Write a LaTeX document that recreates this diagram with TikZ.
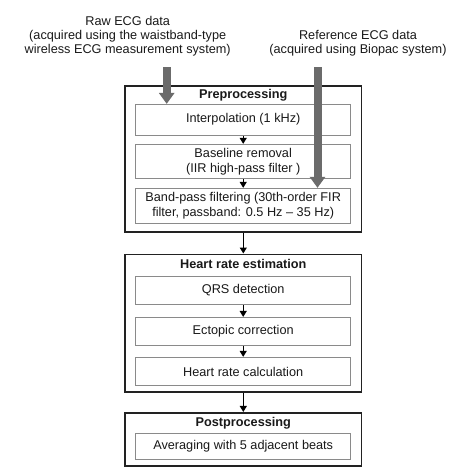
\documentclass[tikz,border=0pt]{standalone}
\usepackage{fontspec}
\setmainfont{Liberation Sans}
\usetikzlibrary{arrows.meta}
\definecolor{arrowgray}{HTML}{6B6B6B}
\definecolor{innergray}{HTML}{8A8A8A}
\definecolor{outerline}{HTML}{222222}
\begin{document}
\begin{tikzpicture}[x=1pt,y=-1pt,
  every node/.style={font=\fontsize{12.7}{15.5}\selectfont, text=black!90},
  lbl/.style={align=center, inner sep=0pt, font=\fontsize{12.7}{14.2}\selectfont},
  outerbox/.style={draw=outerline, line width=1.6pt, minimum width=236.7pt, inner sep=0pt},
  innerbox/.style={draw=innergray, line width=0.9pt, minimum width=215pt, inner sep=0pt, align=center, fill=white},
  ttl/.style={font=\fontsize{12.7}{14}\selectfont\bfseries, inner sep=0pt},
  flow/.style={draw=black, line width=1.2pt, -{Triangle[width=7pt,length=6pt]}},
  bigflow/.style={draw=arrowgray, line width=8pt, -{Triangle[width=15pt,length=11pt]}}
]
\useasboundingbox (0,0) rectangle (474,474);

% outer boxes
\node[outerbox, minimum height=146pt] (pre) at (243.3,158.7) {};
\node[outerbox, minimum height=137.4pt] (hre) at (243.3,323) {};
\node[outerbox, minimum height=53.3pt] (post) at (243.3,439.4) {};

% titles
\node[ttl] (pret) at (243.3,95) {Preprocessing};
\node[ttl] (hret) at (243.3,264.3) {Heart rate estimation};
\node[ttl] (postt) at (243.3,423.3) {Postprocessing};

% inner boxes
\node[innerbox, minimum height=30.7pt] (interp) at (243.2,119.7) {Interpolation (1 kHz)};
\node[innerbox, minimum height=34.4pt] (base) at (243.2,161.5) {Baseline removal\\(IIR high-pass filter )};
\node[innerbox, minimum height=35pt] (band) at (243.2,205.8) {Band-pass filtering (30th-order FIR\\filter, passband: 0.5 Hz -- 35 Hz)};

\node[innerbox, minimum height=28.3pt] (qrs) at (243.2,290.2) {QRS detection};
\node[innerbox, minimum height=27.7pt] (ecto) at (243.2,331.2) {Ectopic correction};
\node[innerbox, minimum height=28.4pt] (hrc) at (243.2,371.5) {Heart rate calculation};

\node[innerbox, minimum height=26pt] (avg) at (243.2,446.3) {Averaging with 5 adjacent beats};

% input labels
\node[lbl] (raw) at (127.7,36) {Raw ECG data\\(acquired using the waistband-type\\wireless ECG measurement system)};
\node[lbl] (ref) at (358,43) {Reference ECG data\\(acquired using Biopac system)};

\coordinate (rawx) at (166.7,67);
\coordinate (refx) at (317.5,67);

% gray input arrows
\draw[bigflow] (rawx) -- (rawx |- interp.north);
\draw[bigflow] (refx) -- (refx |- band.north);

% black flow arrows
\draw[flow] (interp.south) -- (base.north);
\draw[flow] (base.south) -- (band.north);
\draw[flow] (pre.south) -- (hre.north);
\draw[flow] (qrs.south) -- (ecto.north);
\draw[flow] (ecto.south) -- (hrc.north);
\draw[flow] (hre.south) -- (post.north);
\end{tikzpicture}
\end{document}
